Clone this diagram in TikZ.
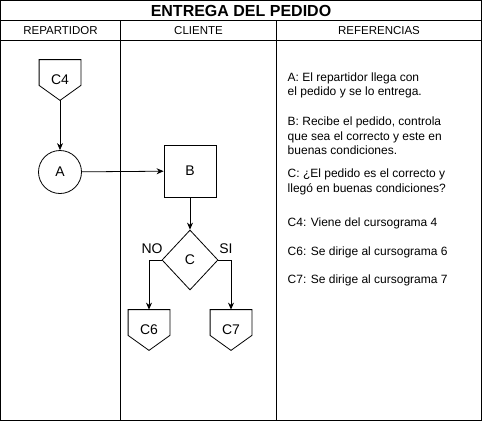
\documentclass[tikz,border=0pt]{standalone}
\usepackage{fontspec}
\setmainfont{Liberation Sans}
\usetikzlibrary{positioning,calc,arrows.meta,shapes.geometric}

% conector de pagina: rectangulo con punta abajo
\newcommand{\conector}[3]{%
  \node[conn] (#1) at (#2) {#3};
  \draw (#1.north west) -- (#1.north east) -- ([yshift=15pt]#1.south east)
    -- (#1.south) -- ([yshift=15pt]#1.south west) -- cycle;
}

\tikzset{
  conn/.style={minimum width=41pt, minimum height=40pt, inner sep=0pt},
  operacion/.style={draw, circle, minimum size=43pt, inner sep=0pt},
  control/.style={draw, minimum width=52pt, minimum height=52pt, inner sep=0pt},
  decision/.style={draw, diamond, minimum width=56pt, minimum height=60pt, inner sep=0pt},
  encabezado/.style={font=\fontsize{11.5}{13}\selectfont},
  referencia/.style={anchor=west, align=left, font=\fontsize{12}{14.5}\selectfont},
}

\begin{document}
\begin{tikzpicture}[x=1pt, y=-1pt, line width=0.8pt, font=\fontsize{14}{16}\selectfont,
  >={Stealth[length=7pt, width=6pt]}]
\useasboundingbox (0,0) rectangle (482,421);

% marco y columnas
\draw (0.5,0.5) rectangle (481.5,420.5);
\draw (0.5,20.5) -- (481.5,20.5);
\draw (0.5,40.5) -- (481.5,40.5);
\draw (120.5,20.5) -- (120.5,420.5);
\draw (276.5,20.5) -- (276.5,420.5);

\node[font=\bfseries\fontsize{16}{18}\selectfont] (titulo) at (241,10.5) {ENTREGA DEL PEDIDO};
\node[encabezado] (colRep) at (60.5,30.5) {REPARTIDOR};
\node[encabezado] (colCli) at (198.5,30.5) {CLIENTE};
\node[encabezado] (colRef) at (379,30.5) {REFERENCIAS};

% diagrama
\conector{C4}{60,80}{C4}
\node[operacion] (A) at (60,172) {A};
\node[control] (B) at (190,171) {B};
\node[decision] (C) at (190,260) {C};
\conector{C6}{149,330}{C6}
\conector{C7}{231,330}{C7}

\draw[->] (C4.south) -- (A);
\draw[->] (A) -- (B);
\draw[->] (B) -- (C);
\draw[->] (C.west) -| (C6.north);
\draw[->] (C.east) -| (C7.north);

\node (no) at (152,249) {NO};
\node (si) at (226,249) {SI};

% referencias
\node[referencia] (refA) at (284,85.5) {A: El repartidor llega con\\el pedido y se lo entrega.};
\node[referencia] (refB) at (284,136) {B: Recibe el pedido, controla\\que sea el correcto y este en\\buenas condiciones.};
\node[referencia] (refC) at (284,182) {C: ¿El pedido es el correcto y\\llegó en buenas condiciones?};
\node[referencia] (refC4) at (284,223) {C4: Viene del cursograma 4};
\node[referencia] (refC6) at (284,252) {C6: Se dirige al cursograma 6};
\node[referencia] (refC7) at (284,280) {C7: Se dirige al cursograma 7};
\end{tikzpicture}
\end{document}
